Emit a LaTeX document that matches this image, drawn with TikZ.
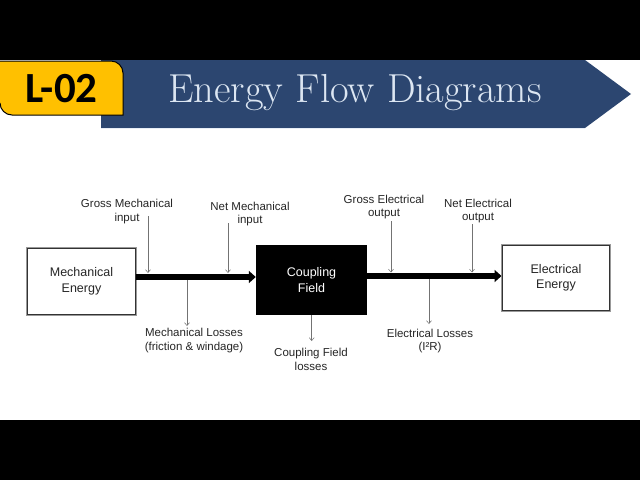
\documentclass[tikz,border=0pt]{standalone}
\usepackage{fontspec}
\newfontfamily\arialf{Liberation Sans}
\newfontfamily\calib{Carlito}
\usetikzlibrary{arrows.meta}
\definecolor{banner}{HTML}{2C4670}
\definecolor{gold}{HTML}{FFC000}
\definecolor{titlecol}{HTML}{DCE6F2}
\begin{document}
\begin{tikzpicture}[x=1pt,y=-1pt,
  lbl/.style={font=\arialf\fontsize{11.5}{13.5}\selectfont, align=center, inner sep=0pt, text=black!85},
  ebox/.style={draw=black!80, double=black!40, double distance=1.3pt, line width=0.45pt, fill=white,
    font=\arialf\fontsize{12.5}{15.5}\selectfont, align=center, inner sep=0pt, text=black!85},
  cbox/.style={fill=black, text=white, font=\arialf\fontsize{12.5}{15.5}\selectfont, align=center, inner sep=0pt},
  thin/.style={draw=black!55, line width=0.5pt, -{Straight Barb[length=3pt,width=5pt]}},
  mainarr/.style={line width=5.5pt, -{Triangle[length=7pt,width=12pt]}}
]
\useasboundingbox (0,0) rectangle (640,480);
\fill[white] (0,0) rectangle (640,480);
\fill[black] (0,0) rectangle (640,60);
\fill[black] (0,420) rectangle (640,480);
% banner
\fill[banner] (101,60) -- (585,60) -- (631,94) -- (585,128) -- (101,128) -- cycle;
\draw[titlecol!70, line width=0.6pt] (101,128.3) -- (585,128.3);
\node[text=titlecol, font=\rmfamily\fontsize{40.5}{42}\selectfont, inner sep=0pt] (title) at (355,93) {Energy Flow Diagrams};
% badge
\fill[gold] (-2,61) -- (111,61) .. controls (117.6,61) and (123,66.4) .. (123,73) -- (123,115) -- (12,115) .. controls (5.4,115) and (0,109.6) .. (0,103) -- (-2,103) -- cycle;
\draw[black, line width=1pt] (-2,61) -- (111,61) .. controls (117.6,61) and (123,66.4) .. (123,73) -- (123,115) -- (12,115) .. controls (5.4,115) and (0,109.6) .. (0,103);
\node[font=\calib\bfseries\fontsize{43}{44}\selectfont, inner sep=0pt] (badge) at (61.5,88.5) {L-02};
% boxes
\node[ebox, minimum width=109.5pt, minimum height=67.5pt] (mech) at (81.5,281.5) {Mechanical\\Energy};
\node[cbox, minimum width=111pt, minimum height=70pt] (coup) at (311.5,280) {Coupling\\Field};
\node[ebox, minimum width=108.5pt, minimum height=66.5pt] (elec) at (556,278) {Electrical\\Energy};
\coordinate (y1) at (0,277);
\coordinate (y2) at (0,276);
\draw[mainarr] (mech.east |- y1) -- (coup.west |- y1);
\draw[mainarr] (coup.east |- y2) -- (elec.west |- y2);
% labels
\node[lbl] (gm) at (127,211.5) {Gross Mechanical\\input};
\node[lbl] (nm) at (250,214) {Net Mechanical\\input};
\node[lbl] (ml) at (194,340.5) {Mechanical Losses\\(friction \& windage)};
\node[lbl] (cf) at (311,359.5) {Coupling Field\\losses};
\node[lbl] (ge) at (384,207) {Gross Electrical\\output};
\node[lbl] (ne) at (478,211) {Net Electrical\\output};
\node[lbl] (el) at (430,341) {Electrical Losses\\(I²R)};
% thin arrows
\coordinate (gmA) at (148,216); \coordinate (gmB) at (148,273);
\coordinate (nmA) at (228,223); \coordinate (nmB) at (228,273);
\coordinate (mlA) at (187,280); \coordinate (mlB) at (187,326);
\coordinate (cfA) at (311.7,315); \coordinate (cfB) at (311.7,341);
\coordinate (geA) at (391,221); \coordinate (geB) at (391,272.5);
\coordinate (neA) at (472,224); \coordinate (neB) at (472,272.5);
\coordinate (elA) at (429,279); \coordinate (elB) at (429,324);
\draw[thin] (gmA) -- (gmB);
\draw[thin] (nmA) -- (nmB);
\draw[thin] (mlA) -- (mlB);
\draw[thin] (cfA) -- (cfB);
\draw[thin] (geA) -- (geB);
\draw[thin] (neA) -- (neB);
\draw[thin] (elA) -- (elB);
\end{tikzpicture}
\end{document}
